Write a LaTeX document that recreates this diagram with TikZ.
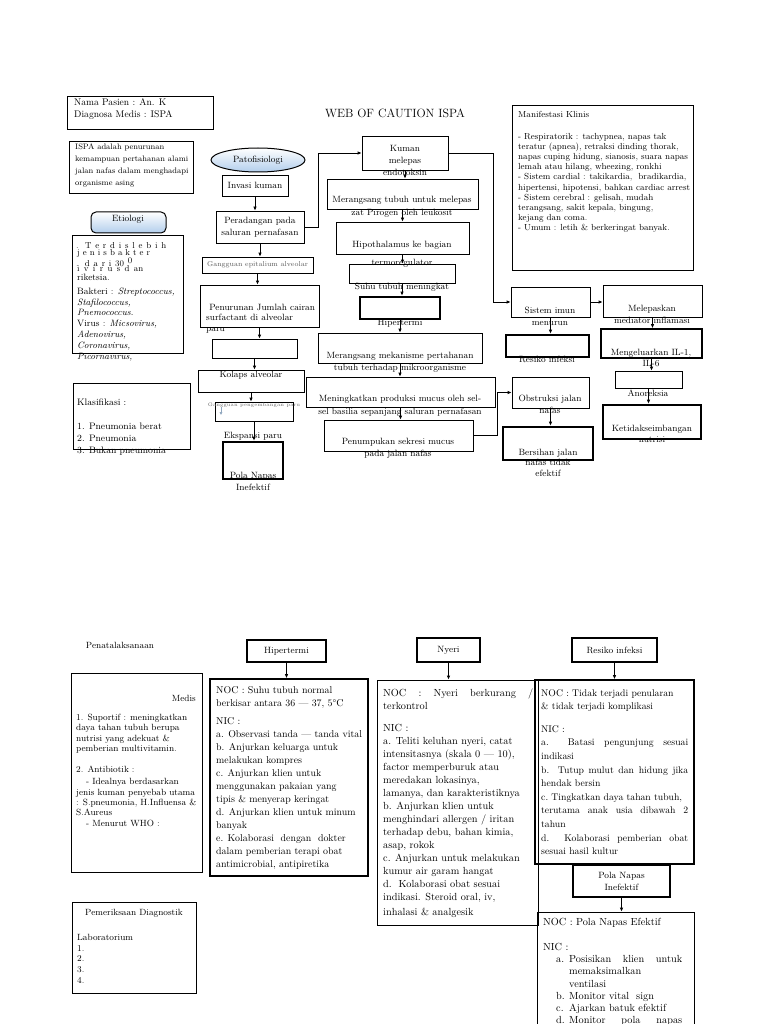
\documentclass[tikz,border=0pt]{standalone}
\usepackage{tikz}
\usetikzlibrary{fit}
\usetikzlibrary{shapes.geometric}
\usetikzlibrary{arrows.meta}
\definecolor{biruMuda}{RGB}{178,206,236}

\begin{document}
\begin{tikzpicture}[x=1pt, y=-1pt,
    kotak/.style={draw, inner sep=0pt, line width=0.7pt},
    tebal/.style={kotak, line width=2.6pt},
    sedang/.style={kotak, line width=1.6pt},
    biru/.style={kotak, line width=1pt, rounded corners=5pt, top color=white, bottom color=biruMuda},
    panah/.style={-{Latex[length=4pt,width=3.4pt]}, line width=0.7pt},
    isi/.style={inner sep=0pt, align=center, font=\fontsize{9.1}{11.5}\selectfont},
    teks/.style={inner sep=0pt, align=left, anchor=north west},
    bawah/.style={teks, font=\fontsize{10.3}{12.6}\selectfont}]
    \useasboundingbox (0,0) rectangle (768,1024);

    % Identitas
    \node[kotak, fit={(67,96) (213,129)}] (nama) {};
    \node[teks, font=\fontsize{9.6}{12}\selectfont] (tNama) at (74,98.5) {Nama Pasien : An. K\\Diagnosa Medis : ISPA};
    \node[font=\fontsize{12}{14}\selectfont] (judul) at (395,113) {WEB OF CAUTION ISPA};
    \node[kotak, fit={(69,141) (193,193)}] (ispa) {};
    \node[teks, font=\fontsize{8}{12}\selectfont] (tIspa) at (75,144) {ISPA adalah penurunan\\kemampuan pertahanan alami\\jalan nafas dalam menghadapi\\organisme asing};

    % Etiologi
    \node[biru, fit={(91,212) (166,233)}] (etiologi) {};
    \node[isi] (tEtiologi) at (128,219) {Etiologi};
    \node[kotak, fit={(72,235) (183,353)}] (etioteks) {};
    \node[teks, font=\fontsize{8.6}{10}\selectfont] (acakA) at (76,242) {\makebox[90pt][s]{. T e r d i s l e b i h}};
    \node[teks, font=\fontsize{8.6}{10}\selectfont] (acakB) at (77,249) {\makebox[73pt][s]{j e n i s b a k t e r}};
    \node[teks, font=\fontsize{8.6}{10}\selectfont] (acakC) at (76,258) {\makebox[56pt][s]{. d a r i 30 \raisebox{3pt}{0}}};
    \node[teks, font=\fontsize{8.6}{10}\selectfont] (acakD) at (77,265) {\makebox[66pt][s]{i v i r u s d an}};
    \node[teks, font=\fontsize{9.2}{10.8}\selectfont] (tEtio) at (77,274) {riketsia.\\[3pt]Bakteri : \textit{Streptococcus,}\\\textit{Stafilococcus,}\\\textit{Pnemococcus.}\\Virus : \textit{Micsovirus,}\\\textit{Adenovirus,}\\\textit{Coronavirus,}\\\textit{Picornavirus,}};

    % Klasifikasi
    \node[kotak, fit={(73,383) (190,449)}] (klasifikasi) {};
    \node[teks, font=\fontsize{9.4}{12}\selectfont] (tKlasifikasi) at (77,398.5) {Klasifikasi :\\[12pt]1. Pneumonia berat\\2. Pneumonia\\3. Bukan pneumonia};

    % Patofisiologi, alur kiri
    \node[ellipse, draw, line width=1pt, top color=white, bottom color=biruMuda, minimum width=94pt, minimum height=24pt, inner sep=0pt, font=\fontsize{9.1}{11}\selectfont] (pato) at (258,160) {Patofisiologi};
    \node[kotak, fit={(222,175) (288,196)}] (invasi) {};
    \node[isi] (tInvasi) at (invasi) {Invasi kuman};
    \node[kotak, fit={(216,211) (304,243)}] (radang) {};
    \node[isi] (tRadang) at (260,227) {Peradangan pada\\saluran pernafasan};
    \node[kotak, fit={(202,257) (313,273)}] (epitel) {};
    \node[isi, font=\fontsize{7}{8}\selectfont, text=black!65] (tEpitel) at (epitel) {Gangguan epitalium alveolar};
    \node[kotak, fit={(200,285) (319,327)}] (surfaktan) {};
    \node[teks, font=\fontsize{9.1}{10.8}\selectfont] (tSurfaktan) at (206,303.6) {\ Penurunan Jumlah cairan\\surfactant di alveolar\\paru};
    \node[kotak, fit={(212,339) (297,358)}] (kosong) {};
    \node[kotak, fit={(198,370) (304,392)}] (kolaps) {};
    \node[isi] (tKolaps) at (251,375) {Kolaps alveolar};
    \node[kotak, fit={(215,402) (293,421)}] (kembang) {};
    \node[isi, font=\fontsize{5}{6}\selectfont, text=black!60] (tKembang) at (254,405) {Gangguan pengembangan paru};
    \coordinate (kecilA) at (221,407);
    \coordinate (kecilB) at (221,415);
    \draw[-{Latex[length=3pt,width=3pt]}, biruMuda!80!black, line width=0.5pt] (kecilA) -- (kecilB);
    \node[tebal, fit={(223,442) (283,479)}] (polaA) {};
    \draw[panah] (invasi.south) -- (invasi.south |- radang.north);
    \draw[panah] (radang.south) -- (radang.south |- epitel.north);
    \draw[panah] (epitel.south) -- (epitel.south |- surfaktan.north);
    \draw[panah] (surfaktan.south) -- (surfaktan.south |- kosong.north);
    \draw[panah] (kosong.south) -- (kosong.south |- kolaps.north);
    \draw[panah] (kolaps.south) -- (kolaps.south |- kembang.north);
    \draw[panah] (kembang.south) -- (kembang.south |- polaA.north);
    \node[isi] (tEkspansi) at (253,436) {Ekspansi paru};
    \node[isi, font=\fontsize{9.1}{12}\selectfont] (tPolaA) at (253,481) {Pola Napas\\Inefektif};

    % Alur tengah
    \node[kotak, fit={(362,136) (448,170)}] (kuman) {};
    \node[isi, font=\fontsize{9.1}{12}\selectfont] (tKuman) at (405,160) {Kuman\\melepas\\endotoksin};
    \node[kotak, fit={(327,179) (478,209)}] (pirogen) {};
    \node[isi, font=\fontsize{9.1}{13}\selectfont] (tPirogen) at (402,206.5) {Merangsang tubuh untuk melepas\\zat Pirogen oleh leukosit};
    \node[kotak, fit={(336,222) (469,254)}] (hipotalamus) {};
    \node[isi, font=\fontsize{9.1}{18}\selectfont] (tHipo) at (402,254) {Hipothalamus ke bagian\\termoregulator};
    \node[kotak, fit={(349,264) (455,283)}] (suhu) {};
    \node[isi] (tSuhu) at (402,287) {Suhu tubuh meningkat};
    \node[tebal, fit={(360,297) (440,319)}] (hiperA) {};
    \node[isi] (tHiperA) at (400,323) {Hipertermi};
    \node[kotak, fit={(318,333) (482,363)}] (mekanisme) {};
    \node[isi, font=\fontsize{9.1}{12}\selectfont] (tMekanisme) at (400,362) {Merangsang mekanisme pertahanan\\tubuh terhadap mikroorganisme};
    \node[kotak, fit={(306,377) (495,407)}] (mukus) {};
    \node[isi, font=\fontsize{9.1}{13}\selectfont] (tMukus) at (400,405.5) {Meningkatkan produksi mucus oleh sel-\\sel basilia sepanjang saluran pernafasan};
    \node[kotak, fit={(324,420) (473,451)}] (sekret) {};
    \node[isi, font=\fontsize{9.1}{12}\selectfont] (tSekret) at (398,448) {Penumpukan sekresi mucus\\pada jalan nafas};
    \draw[panah] (radang.east) -- ++(14,0) |- (kuman.west);
    \draw[panah] (kuman.south) -- (kuman.south |- pirogen.north);
    \draw[panah] (pirogen.south) -- (pirogen.south |- hipotalamus.north);
    \draw[panah] (hipotalamus.south) -- (hipotalamus.south |- suhu.north);
    \draw[panah] (suhu.south) -- (suhu.south |- hiperA.north);
    \draw[panah] (hiperA.south) -- (hiperA.south |- mekanisme.north);
    \draw[panah] (mekanisme.south) -- (mekanisme.south |- mukus.north);
    \draw[panah] (mukus.south) -- (mukus.south |- sekret.north);

    % Manifestasi klinis
    \node[kotak, fit={(512,105) (693,270)}] (manifest) {};
    \node[teks, font=\fontsize{8.8}{10.2}\selectfont] (tManifest) at (518,110.6) {Manifestasi Klinis\\[11.8pt]- Respiratorik : tachypnea, napas tak\\teratur (apnea), retraksi dinding thorak,\\napas cuping hidung, sianosis, suara napas\\lemah atau hilang, wheezing, ronkhi\\- Sistem cardial : takikardia,\ \ bradikardia,\\hipertensi, hipotensi, bahkan cardiac arrest\\- Sistem cerebral : gelisah, mudah\\terangsang, sakit kepala, bingung,\\kejang dan coma.\\- Umum : letih \& berkeringat banyak.};

    % Alur kanan
    \node[kotak, fit={(511,287) (590,317)}] (imun) {};
    \node[isi, font=\fontsize{9.1}{12}\selectfont] (tImun) at (550,316) {Sistem imun\\menurun};
    \node[kotak, fit={(603,285) (702,317)}] (mediator) {};
    \node[isi, font=\fontsize{9.1}{12}\selectfont] (tMediator) at (652,314) {Melepaskan\\mediator inflamasi};
    \node[tebal, fit={(506,335) (589,357)}] (resikoA) {};
    \node[isi] (tResikoA) at (547,359) {Resiko infeksi};
    \node[sedang, fit={(601,329) (702,358)}] (interleukin) {};
    \node[isi, font=\fontsize{9.1}{11}\selectfont] (tInterleukin) at (651,357.5) {Mengeluarkan IL-1,\\IL-6};
    \node[kotak, fit={(615,371) (682,388)}] (anoreksia) {};
    \node[isi] (tAnoreksia) at (648,393) {Anoreksia};
    \node[tebal, fit={(603,405) (701,439)}] (nutrisi) {};
    \node[isi, font=\fontsize{9.1}{11}\selectfont] (tNutrisi) at (652,433.5) {Ketidakseimbangan\\nutrisi};
    \node[kotak, fit={(512,377) (589,408)}] (obstruksi) {};
    \node[isi, font=\fontsize{9.1}{12}\selectfont] (tObstruksi) at (550,404) {Obstruksi jalan\\nafas};
    \node[tebal, fit={(503,427) (593,460)}] (bersihan) {};
    \node[isi, font=\fontsize{9.1}{10.5}\selectfont] (tBersihan) at (548,462.5) {Bersihan jalan\\nafas tidak\\efektif};
    \draw[panah] (kuman.east) -- ++(45,0) |- (imun.west);
    \draw[panah] (imun.east) -- (imun.east -| mediator.west);
    \draw[panah] (imun.south) -- (imun.south |- resikoA.north);
    \draw[panah] (mediator.south) -- (mediator.south |- interleukin.north);
    \draw[panah] (interleukin.south) -- (interleukin.south |- anoreksia.north);
    \draw[panah] (anoreksia.south) -- (anoreksia.south |- nutrisi.north);
    \draw[panah] (sekret.east) -- ++(24,0) |- (obstruksi.west);
    \draw[panah] (obstruksi.south) -- (obstruksi.south |- bersihan.north);

    % Penatalaksanaan
    \node[font=\fontsize{9}{11}\selectfont] (penata) at (120,645) {Penatalaksanaan};
    \node[kotak, fit={(71,673) (202,872)}] (medis) {};
    \node[anchor=east, inner sep=0pt, font=\fontsize{9}{11}\selectfont] (tMedisJudul) at (196,698) {Medis};
    \node[teks, font=\fontsize{9}{10.3}\selectfont] (tMedis) at (76,714) {1. Suportif : meningkatkan\\daya tahan tubuh berupa\\nutrisi yang adekuat \&\\pemberian multivitamin.\\[10.3pt]2. Antibiotik :\\[2.5pt]\hspace*{10pt}- Idealnya berdasarkan\\jenis kuman penyebab utama\\: S.pneumonia, H.Influensa \&\\S.Aureus\\\hspace*{10pt}- Menurut WHO :};

    % Hipertermi
    \node[tebal, fit={(247,640) (326,662)}] (hiperB) {};
    \node[isi] (tHiperB) at (hiperB) {Hipertermi};
    \node[sedang, fit={(210,679) (368,876)}] (hiperC) {};
    \node[bawah, font=\fontsize{9.9}{13}\selectfont] (tHiperC) at (216,686) {NOC : Suhu tubuh normal\\berkisar antara 36 — 37, 5\textdegree C\\[5pt]NIC :\\a. Observasi tanda — tanda vital\\b. Anjurkan keluarga untuk\\melakukan kompres\\c. Anjurkan klien untuk\\menggunakan pakaian yang\\tipis \& menyerap keringat\\d. Anjurkan klien untuk minum\\banyak\\e. Kolaborasi\ \ dengan\ \ dokter\\dalam pemberian terapi obat\\antimicrobial, antipiretika};
    \draw[panah] (hiperB.south) -- (hiperB.south |- hiperC.north);

    % Nyeri
    \node[tebal, fit={(417,638) (480,662)}] (nyeriA) {};
    \node[isi] (tNyeriA) at (nyeriA) {Nyeri};
    \node[kotak, fit={(377,680) (538,925)}] (nyeriB) {};
    \node[bawah, font=\fontsize{10.3}{13}\selectfont] (tNyeriB) at (383,689) {\makebox[150pt][s]{NOC : Nyeri berkurang /}\\terkontrol\\[9pt]NIC :\\a. Teliti keluhan nyeri, catat\\intensitasnya (skala 0 — 10),\\factor memperburuk atau\\meredakan lokasinya,\\lamanya, dan karakteristiknya\\b. Anjurkan klien untuk\\menghindari allergen / iritan\\terhadap debu, bahan kimia,\\asap, rokok\\c. Anjurkan untuk melakukan\\kumur air garam hangat\\d.\ \ Kolaborasi obat sesuai\\indikasi. Steroid oral, iv,\\[2pt]inhalasi \& analgesik};
    \draw[panah] (nyeriA.south) -- (nyeriA.south |- nyeriB.north);

    % Resiko infeksi
    \node[tebal, fit={(572,638) (657,662)}] (resikoB) {};
    \node[isi] (tResikoB) at (resikoB) {Resiko infeksi};
    \node[sedang, fit={(535,680) (694,864)}] (resikoC) {};
    \node[bawah, font=\fontsize{9.7}{13.6}\selectfont] (tResikoC) at (541,689) {NOC : Tidak terjadi penularan\\\& tidak terjadi komplikasi\\[9pt]NIC :\\\makebox[147pt][s]{a.\ \ Batasi pengunjung sesuai}\\indikasi\\\makebox[147pt][s]{b. Tutup mulut dan hidung jika}\\hendak bersin\\c.\ Tingkatkan daya tahan tubuh,\\\makebox[147pt][s]{terutama anak usia dibawah 2}\\tahun\\\makebox[147pt][s]{d.\ \ Kolaborasi pemberian obat}\\sesuai hasil kultur};
    \draw[panah] (resikoB.south) -- (resikoB.south |- resikoC.north);

    % Pola napas
    \node[tebal, fit={(573,865) (670,897)}] (polaB) {};
    \node[isi, font=\fontsize{9.1}{12}\selectfont] (tPolaB) at (polaB) {Pola Napas\\Inefektif};
    \node[kotak, fit={(537,912) (694,1034)}] (polaC) {};
    \node[bawah, font=\fontsize{10.3}{12.2}\selectfont] (tPolaC) at (543,918) {NOC : Pola Napas Efektif\\[12.8pt]NIC :\\\hspace*{13pt}\makebox[13pt][l]{a.}\makebox[113pt][s]{Posisikan klien untuk}\\\hspace*{26pt}memaksimalkan\\\hspace*{26pt}ventilasi\\\hspace*{13pt}\makebox[13pt][l]{b.}Monitor vital\ \ sign\\\hspace*{13pt}\makebox[13pt][l]{c.}Ajarkan batuk efektif\\\hspace*{13pt}\makebox[13pt][l]{d.}\makebox[113pt][s]{Monitor pola napas}};
    \draw[panah] (polaB.south) -- (polaB.south |- polaC.north);

    % Pemeriksaan diagnostik
    \node[kotak, fit={(72,902) (196,993)}] (diagnostik) {};
    \node[isi, font=\fontsize{9}{11}\selectfont] (tDiagJudul) at (134,913) {Pemeriksaan Diagnostik};
    \node[teks, font=\fontsize{9}{10.7}\selectfont] (tDiag) at (77,934) {Laboratorium\\1.\\2.\\3.\\4.};
\end{tikzpicture}
\end{document}
